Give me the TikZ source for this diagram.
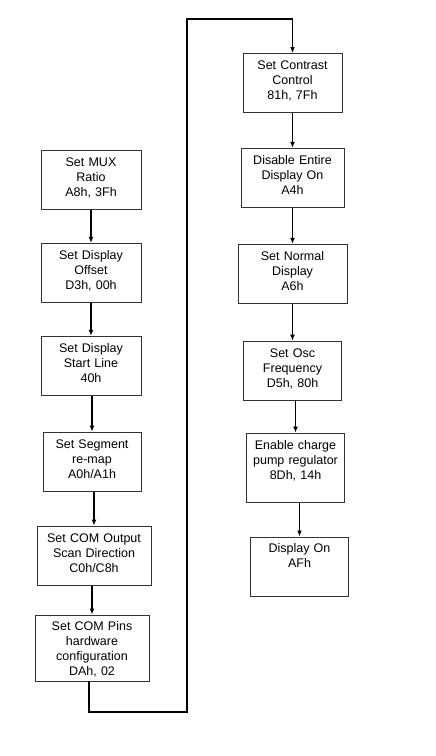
\documentclass[tikz,border=0pt]{standalone}
\usepackage{fontspec}
\setmainfont{Liberation Sans}
\usetikzlibrary{arrows.meta,positioning}

\begin{document}
\begin{tikzpicture}[
    node distance=34pt,
    box/.style={rectangle, draw=black!80, line width=0.9pt, text width=96pt, align=center,
        inner xsep=2pt, inner ysep=0pt, text height=16pt, text depth=43pt,
        font=\fontsize{12.5}{15}\selectfont},
    arrow/.style={-{Latex[length=6pt,width=5pt]}, line width=1.2pt}
]
    \useasboundingbox (0,0) rectangle (436pt,-756pt);

    % left column
    \node[box, anchor=north] (mux) at (91pt,-150pt) {Set MUX\\Ratio\\A8h, 3Fh};
    \node[box, below=33pt of mux] (offset) {Set Display\\Offset\\D3h, 00h};
    \node[box, below=33pt of offset] (startline) {Set Display\\Start Line\\40h};
    \node[box, below=36pt of startline, xshift=1pt, text width=94pt] (remap) {Set Segment\\re-map\\A0h/A1h};
    \node[box, below=34pt of remap, xshift=2pt, text width=110pt] (comscan) {Set COM Output\\Scan Direction\\C0h/C8h};
    \node[box, below=29pt of comscan, xshift=-2pt, text width=110pt, text depth=50pt] (compins) {Set COM Pins\\hardware\\configuration\\DAh, 02};

    % right column
    \node[box, anchor=north, text width=95pt] (contrast) at (292.5pt,-53pt) {Set Contrast\\Control\\81h, 7Fh};
    \node[box, below=35pt of contrast, text width=99pt] (entire) {Disable Entire\\Display On\\A4h};
    \node[box, below=36pt of entire, text width=105pt] (normal) {Set Normal\\Display\\A6h};
    \node[box, below=37pt of normal, text width=94pt] (osc) {Set Osc\\Frequency\\D5h, 80h};
    \node[box, below=32pt of osc, xshift=3pt, text width=94pt, text depth=53pt] (pump) {Enable charge\\pump regulator\\8Dh, 14h};
    \node[box, below=34pt of pump, xshift=4pt, text width=94pt] (dispon) {Display On\\AFh};

    \foreach \a/\b in {mux/offset, offset/startline, startline/remap, remap/comscan, comscan/compins,
                       contrast/entire, entire/normal, normal/osc, osc/pump, pump/dispon}
        \draw[arrow] (\b.north |- \a.south) -- (\b.north);

    % jump from the left column to the right one
    \coordinate (lowturn) at (187pt,-712pt);
    \coordinate (topturn) at (187pt,-19pt);
    \draw[arrow] ([xshift=-3pt]compins.south) |- (lowturn) -- (topturn) -| (contrast.north);
\end{tikzpicture}
\end{document}
